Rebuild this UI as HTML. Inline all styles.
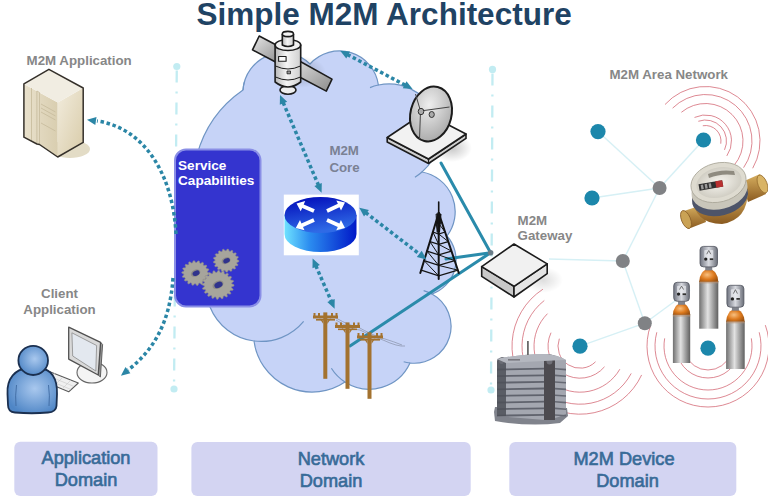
<!DOCTYPE html>
<html><head><meta charset="utf-8"><style>html,body{margin:0;padding:0;background:#ffffff;}svg{display:block;}</style></head>
<body><svg width="768" height="501" viewBox="0 0 768 501">
<defs>
<linearGradient id="gPanel" x1="0" y1="0" x2="1" y2="1"><stop offset="0" stop-color="#e6e6e6"/><stop offset="1" stop-color="#8c8c8c"/></linearGradient>
<linearGradient id="gBody" x1="0" y1="0" x2="1" y2="0"><stop offset="0" stop-color="#b8b8b8"/><stop offset="0.45" stop-color="#f4f4f4"/><stop offset="1" stop-color="#d0d0d0"/></linearGradient>
<radialGradient id="gDish" cx="0.4" cy="0.35" r="0.7"><stop offset="0" stop-color="#eeeeee"/><stop offset="1" stop-color="#a9a9a9"/></radialGradient>
<radialGradient id="gShadow" cx="0.5" cy="0.5" r="0.5"><stop offset="0" stop-color="#000" stop-opacity="0.22"/><stop offset="1" stop-color="#000" stop-opacity="0"/></radialGradient>
<linearGradient id="gPuckTop" x1="0" y1="0" x2="0.3" y2="1"><stop offset="0" stop-color="#0008b8"/><stop offset="1" stop-color="#2f6ae6"/></linearGradient>
<linearGradient id="gPuckSide" x1="0" y1="0" x2="1" y2="0"><stop offset="0" stop-color="#6fe2ff"/><stop offset="0.35" stop-color="#2b8cf0"/><stop offset="1" stop-color="#0018c8"/></linearGradient>
<linearGradient id="gServer" x1="0" y1="0" x2="1" y2="0"><stop offset="0" stop-color="#e9e1cc"/><stop offset="1" stop-color="#d9ceb0"/></linearGradient>
<linearGradient id="gServerR" x1="0" y1="0" x2="1" y2="1"><stop offset="0" stop-color="#f2ecdd"/><stop offset="1" stop-color="#d8cba8"/></linearGradient>
<radialGradient id="gUser" cx="0.55" cy="0.45" r="0.6"><stop offset="0" stop-color="#a9c8ee"/><stop offset="1" stop-color="#4f86c6"/></radialGradient>
<linearGradient id="gCyl" x1="0" y1="0" x2="1" y2="0"><stop offset="0" stop-color="#6f6f6f"/><stop offset="0.45" stop-color="#e2e2e2"/><stop offset="1" stop-color="#606060"/></linearGradient>
<radialGradient id="gDome" cx="0.42" cy="0.45" r="0.65"><stop offset="0" stop-color="#f8c080"/><stop offset="0.55" stop-color="#dd7a1e"/><stop offset="1" stop-color="#9a5212"/></radialGradient>
<linearGradient id="gValve" x1="0" y1="0" x2="1" y2="0"><stop offset="0" stop-color="#707480"/><stop offset="0.5" stop-color="#d8dae0"/><stop offset="1" stop-color="#6a6e78"/></linearGradient>
<linearGradient id="gBrass" x1="0" y1="0" x2="0" y2="1"><stop offset="0" stop-color="#d8b060"/><stop offset="1" stop-color="#8a5a20"/></linearGradient>
<radialGradient id="gGlass" cx="0.5" cy="0.5" r="0.6"><stop offset="0" stop-color="#f6f4ee"/><stop offset="1" stop-color="#c9c6bb"/></radialGradient>
<linearGradient id="gTank" x1="0" y1="0" x2="1" y2="0"><stop offset="0" stop-color="#7a7e88"/><stop offset="0.5" stop-color="#a3a7b0"/><stop offset="1" stop-color="#8e929c"/></linearGradient>
</defs><rect width="768" height="501" fill="#ffffff"/>
<line x1="176.8" y1="66.5" x2="174" y2="389" stroke="#c2ecf2" stroke-width="2.3" stroke-dasharray="12 9 2 9" stroke-dashoffset="-4"/>
<circle cx="176.8" cy="66.5" r="3.6" fill="#c2ecf2"/><circle cx="174" cy="389" r="3.6" fill="#c2ecf2"/><line x1="492.5" y1="69.4" x2="491" y2="390" stroke="#c2ecf2" stroke-width="2.3" stroke-dasharray="12 9 2 9" stroke-dashoffset="-4"/>
<circle cx="492.5" cy="69.4" r="3.6" fill="#c2ecf2"/><circle cx="491" cy="390" r="3.6" fill="#c2ecf2"/>
<path d="M243,90 A39.60,39.60 0 0 1 310.00,64.00 A39.45,39.45 0 0 1 378.40,85.00 A50.27,50.27 0 0 1 422.00,172.00 A40.30,40.30 0 0 1 447.00,236.00 A36.15,36.15 0 0 1 432.00,294.00 A36.92,36.92 0 0 1 410.00,363.00 A44.78,44.78 0 0 1 345.00,382.00 A58.67,58.67 0 0 1 254.00,341.00 A55.08,55.08 0 0 1 210.00,307.00 A65.28,65.28 0 0 1 204.00,235.00 A116.09,116.09 0 0 1 243.00,90.00 Z" fill="#c6d3f7" stroke="#6f95c4" stroke-width="1.2"/>
<path d="M243.00,90.00 A39.60,39.60 0 0 1 244.39,81.84 M378.40,85.00 A50.27,50.27 0 0 0 370.02,87.57 M422.00,172.00 A50.27,50.27 0 0 1 414.93,177.17 M432.00,294.00 A36.92,36.92 0 0 0 423.65,290.64 M410.00,363.00 A36.92,36.92 0 0 1 403.69,361.72 M345.00,382.00 A44.78,44.78 0 0 1 331.38,368.21 M254.00,341.00 A55.08,55.08 0 0 0 303.65,321.32" fill="none" stroke="#6f95c4" stroke-width="1.2"/>
<g stroke="#1c1c1c" stroke-width="1.6" stroke-linejoin="round">
<ellipse cx="300" cy="72" rx="26" ry="16" fill="url(#gShadow)" stroke="none"/>
<polygon points="259.2,36 252.5,49.9 276,62.3 282,48" fill="url(#gPanel)"/>
<polygon points="294,58 332,79.1 326.3,91.1 290,72" fill="url(#gPanel)"/>
<ellipse cx="288" cy="90" rx="8" ry="4.3" fill="#eee"/>
<path d="M275.1,45 L275.1,82 Q288,92 300.7,82 L300.7,45 Z" fill="url(#gBody)"/>
<ellipse cx="287.9" cy="45" rx="12.8" ry="5.5" fill="#f2f2f2"/>
<path d="M282.3,34 L282.3,45 Q288,48 293.5,45 L293.5,34" fill="url(#gBody)"/>
<ellipse cx="287.9" cy="34" rx="5.6" ry="2.6" fill="#f4f4f4"/>
<path d="M275.5,66 Q288,72 300.5,66" fill="none" stroke-width="1"/>
<path d="M275.5,77 Q288,83 300.5,77" fill="none" stroke-width="1"/>
<rect x="278.6" y="56.5" width="7.5" height="4.8" fill="#fafafa" stroke-width="1.1"/>
<rect x="287" y="71" width="3.5" height="2.8" fill="#999" stroke-width="0.8"/>
</g>
<g stroke="#1c1c1c" stroke-linejoin="round">
<ellipse cx="452" cy="148" rx="20" ry="14" fill="url(#gShadow)" stroke="none"/>
<polygon points="387.2,142 428.5,163.5 466,138.4 466,134 428.5,159 387.2,137.5" fill="#cfcfcf" stroke-width="1.6"/>
<polygon points="387.2,137.5 424.5,112.5 466,134 428.5,159" fill="#f2f2f2" stroke-width="1.6"/>
<line x1="428.5" y1="159" x2="428.5" y2="163.5" stroke-width="1.2"/>
<ellipse cx="431" cy="114" rx="20.5" ry="27.8" transform="rotate(14 431 114)" fill="url(#gDish)" stroke-width="2"/>
<g stroke="#444" stroke-width="1" fill="none">
<line x1="420.5" y1="111" x2="415.5" y2="94"/><line x1="420.5" y1="111" x2="449.5" y2="107"/><line x1="420.5" y1="111" x2="419.5" y2="139.5"/>
</g>
<ellipse cx="421" cy="111.5" rx="2.8" ry="3.2" fill="#aaa" stroke="#333" stroke-width="1"/>
<ellipse cx="431.7" cy="114.5" rx="2.6" ry="3" fill="#aaa" stroke="#333" stroke-width="1"/>
</g>
<g stroke="#2a8bab" stroke-width="3" stroke-linecap="round">
<line x1="441" y1="163" x2="490.6" y2="252.7"/>
<line x1="446" y1="259" x2="490.6" y2="252.7"/>
<line x1="350" y1="346" x2="490.6" y2="252.7"/>
</g><circle cx="490.6" cy="252.7" r="2.8" fill="#6a7d88"/>
<g stroke="#141414" fill="none" stroke-linecap="round"><line x1="438.7" y1="202" x2="438.7" y2="214" stroke-width="1.6"/><polygon points="436.5,214 441,214 439.5,232 437.5,232" fill="#141414" stroke-width="1"/><line x1="438.7" y1="213" x2="420.3" y2="273" stroke-width="2"/><line x1="438.7" y1="213" x2="458.8" y2="273" stroke-width="2"/><line x1="438.7" y1="213" x2="438.7" y2="279" stroke-width="2"/><polyline points="435.8,222.5 438.7,223.5 441.9,222.5" stroke-width="1.3"/><polyline points="432.9,232.0 438.7,234.0 445.1,232.0" stroke-width="1.3"/><line x1="435.8" y1="222.5" x2="438.7" y2="234.0" stroke-width="1"/><line x1="438.7" y1="223.5" x2="445.1" y2="232.0" stroke-width="1"/><polyline points="429.9,241.6 438.7,244.4 448.3,241.6" stroke-width="1.3"/><line x1="432.9" y1="232.0" x2="438.7" y2="244.4" stroke-width="1"/><line x1="438.7" y1="234.0" x2="448.3" y2="241.6" stroke-width="1"/><polyline points="427.0,251.1 438.7,254.9 451.5,251.1" stroke-width="1.3"/><line x1="429.9" y1="241.6" x2="438.7" y2="254.9" stroke-width="1"/><line x1="438.7" y1="244.4" x2="451.5" y2="251.1" stroke-width="1"/><polyline points="424.1,260.6 438.7,265.4 454.7,260.6" stroke-width="1.3"/><line x1="427.0" y1="251.1" x2="438.7" y2="265.4" stroke-width="1"/><line x1="438.7" y1="254.9" x2="454.7" y2="260.6" stroke-width="1"/><polyline points="421.2,270.1 438.7,275.9 457.8,270.1" stroke-width="1.3"/><line x1="424.1" y1="260.6" x2="438.7" y2="275.9" stroke-width="1"/><line x1="438.7" y1="265.4" x2="457.8" y2="270.1" stroke-width="1"/></g>
<g><g stroke="#8890a8" stroke-width="0.7" fill="none"><path d="M336,318 Q350,326 358,327 Q372,335 382,338 Q395,342 402,345"/><path d="M336,320 Q352,330 360,330 Q376,338 383,340 Q398,347 405,346"/></g><rect x="323.3" y="312.4" width="4" height="66.40000000000003" fill="#a3722f"/><rect x="313" y="315.5" width="25" height="3" fill="#a3722f"/><rect x="316" y="319" width="19" height="1.6" fill="#a3722f"/><rect x="313.5" y="313" width="2" height="3" fill="#a3722f"/><rect x="318" y="313" width="2" height="3" fill="#a3722f"/><rect x="331" y="313" width="2" height="3" fill="#a3722f"/><rect x="335.5" y="313" width="2" height="3" fill="#a3722f"/><polygon points="319.3,318 323.3,324 323.3,321" fill="#a3722f"/><polygon points="331.3,318 327.3,324 327.3,321" fill="#a3722f"/><rect x="345.5" y="322.4" width="4" height="66.40000000000003" fill="#a3722f"/><rect x="335" y="325.0" width="25" height="3" fill="#a3722f"/><rect x="338" y="328.5" width="19" height="1.6" fill="#a3722f"/><rect x="335.5" y="322.5" width="2" height="3" fill="#a3722f"/><rect x="340" y="322.5" width="2" height="3" fill="#a3722f"/><rect x="353" y="322.5" width="2" height="3" fill="#a3722f"/><rect x="357.5" y="322.5" width="2" height="3" fill="#a3722f"/><polygon points="341.5,327.5 345.5,333.5 345.5,330.5" fill="#a3722f"/><polygon points="353.5,327.5 349.5,333.5 349.5,330.5" fill="#a3722f"/><rect x="367.5" y="332.3" width="4" height="66.5" fill="#a3722f"/><rect x="357" y="335.5" width="26" height="3" fill="#a3722f"/><rect x="360" y="339" width="20" height="1.6" fill="#a3722f"/><rect x="357.5" y="333" width="2" height="3" fill="#a3722f"/><rect x="362" y="333" width="2" height="3" fill="#a3722f"/><rect x="376" y="333" width="2" height="3" fill="#a3722f"/><rect x="380.5" y="333" width="2" height="3" fill="#a3722f"/><polygon points="363.5,338 367.5,344 367.5,341" fill="#a3722f"/><polygon points="375.5,338 371.5,344 371.5,341" fill="#a3722f"/></g>
<rect x="283.8" y="194.6" width="75" height="60.7" fill="#fff"/>
<path d="M284.5,215 L284.5,234 A36,18 0 0 0 356.5,234 L356.5,215 Z" fill="url(#gPuckSide)"/>
<ellipse cx="320.5" cy="215" rx="36" ry="18" fill="url(#gPuckTop)"/>
<polygon points="314.8,209.3 303.7,204.4 305.2,201.1 296.5,203.4 300.7,211.3 302.2,207.9 313.2,212.7" fill="#fff"/><polygon points="327.8,212.7 339.5,207.3 341.0,210.6 345.0,202.6 336.3,200.5 337.9,203.8 326.2,209.3" fill="#fff"/><polygon points="313.2,218.3 301.4,223.4 300.0,220.1 295.8,228.0 304.5,230.3 303.0,226.9 314.8,221.7" fill="#fff"/><polygon points="326.2,221.7 337.8,226.9 336.3,230.3 345.0,228.0 340.9,220.0 339.4,223.4 327.8,218.3" fill="#fff"/>
<g stroke="#1c1c1c" stroke-width="1.6" stroke-linejoin="round">
<ellipse cx="543" cy="280" rx="20" ry="13" fill="url(#gShadow)" stroke="none" opacity="0.6"/>
<polygon points="481.7,266.6 514,286.3 514,297 481.7,276.4" fill="#c9c9c9"/>
<polygon points="514,286.3 547.2,263.9 547.2,273.7 514,297" fill="#e4e4e4"/>
<polygon points="481.7,266.6 514,244 547.2,263.9 514,286.3" fill="#f1f1f1"/>
</g>
<g stroke-linejoin="round">
<ellipse cx="70" cy="149" rx="20" ry="9" fill="#e3dcc6"/>
<polygon points="23.9,83.9 57.7,102.6 57.7,157 39.5,144.5 36.9,144 23.9,137.2" fill="url(#gServer)"/>
<polygon points="57.7,102.6 83.2,88 83.2,142.4 57.7,157" fill="url(#gServerR)"/>
<polygon points="23.9,83.9 48.9,69.3 83.2,88 57.7,102.6" fill="#f1ede2"/>
<g stroke="#c8bd9f" stroke-width="0.9" fill="none">
<line x1="31.5" y1="88" x2="31.5" y2="141"/>
<polyline points="36.9,144 36.9,91 39.5,92.5 39.5,144.5"/>
<line x1="41" y1="104" x2="55.5" y2="112"/><line x1="41" y1="108" x2="55.5" y2="116"/><line x1="41" y1="112" x2="55.5" y2="120"/>
<line x1="41" y1="123" x2="55.5" y2="131"/>
</g>
<polygon points="23.9,83.9 48.9,69.3 83.2,88 83.2,142.4 57.7,157 39.5,144.5 36.9,144 23.9,137.2" fill="none" stroke="#35302a" stroke-width="1.5"/>
</g>
<g stroke-linejoin="round">
<ellipse cx="92" cy="372.5" rx="15" ry="10.5" fill="#f4f4f4" stroke="#666" stroke-width="1.1"/>
<polygon points="100.6,342.3 102.6,344.5 100.4,377 98.2,375" fill="#9a9a9a" stroke="#555" stroke-width="0.9"/>
<polygon points="68.7,327.2 100.6,342.3 98.2,375 68.7,359.1" fill="#d9d9d9" stroke="#505050" stroke-width="1.3"/>
<polygon points="71.9,332.8 96.6,345.5 95.8,371 72.7,356" fill="#e3e8ef" stroke="#8a8a8a" stroke-width="0.8"/>
<polygon points="48,371 78.3,383 68.7,391.8 38,379" fill="#f0f0f0" stroke="#5a5a5a" stroke-width="1.1"/>
<g stroke="#c8c8c8" stroke-width="0.6"><line x1="45" y1="374.5" x2="74" y2="386.5"/><line x1="42" y1="377.5" x2="71" y2="389.5"/><line x1="55" y1="373" x2="46" y2="382"/><line x1="63" y1="377" x2="54" y2="386"/><line x1="71" y1="380" x2="62" y2="389"/></g>
<path d="M7.5,394 C6.5,378 16,369 27,368.5 L40,368.5 C51,369 57.5,378 57,394 L56.5,406 Q56,412 48,412.5 Q32,414 15,412.5 Q8,412 8,405 Z" fill="url(#gUser)" stroke="#1b3050" stroke-width="1.8"/>
<path d="M16.5,385 Q15,396 16,406 M48.5,385 Q50,396 49,406" fill="none" stroke="#3e6aa2" stroke-width="0.9"/>
<ellipse cx="33.2" cy="360.4" rx="14.8" ry="14.6" fill="url(#gUser)" stroke="#1b3050" stroke-width="1.8"/>
</g>
<line x1="659.6" y1="188" x2="598" y2="131.6" stroke="#d6f0f5" stroke-width="1.4"/><line x1="659.6" y1="188" x2="703.5" y2="140" stroke="#d6f0f5" stroke-width="1.4"/><line x1="659.6" y1="188" x2="592" y2="198" stroke="#d6f0f5" stroke-width="1.4"/><line x1="659.6" y1="188" x2="622.8" y2="261" stroke="#d6f0f5" stroke-width="1.4"/><line x1="622.8" y1="261" x2="549" y2="259" stroke="#d6f0f5" stroke-width="1.4"/><line x1="622.8" y1="261" x2="644.8" y2="323.2" stroke="#d6f0f5" stroke-width="1.4"/><line x1="644.8" y1="323.2" x2="580" y2="346.2" stroke="#d6f0f5" stroke-width="1.4"/><line x1="644.8" y1="323.2" x2="690" y2="290" stroke="#d6f0f5" stroke-width="1.4"/><path d="M702.81,125.74 A15.50,15.50 0 0 1 720.76,143.69" fill="none" stroke="#cf5a68" stroke-width="0.9" stroke-opacity="0.8"/><path d="M698.32,121.27 A21.00,21.00 0 0 1 724.53,149.87" fill="none" stroke="#cf5a68" stroke-width="0.9" stroke-opacity="0.8"/><path d="M694.51,117.44 A26.00,26.00 0 0 1 726.80,155.91" fill="none" stroke="#cf5a68" stroke-width="0.9" stroke-opacity="0.8"/><path d="M681.40,112.27 A37.50,37.50 0 0 1 734.23,165.10" fill="none" stroke="#cf5a68" stroke-width="0.9" stroke-opacity="0.8"/><path d="M672.62,108.12 A46.50,46.50 0 0 1 743.59,167.67" fill="none" stroke="#cf5a68" stroke-width="0.9" stroke-opacity="0.8"/><path d="M665.00,104.53 A54.50,54.50 0 0 1 752.70,168.25" fill="none" stroke="#cf5a68" stroke-width="0.9" stroke-opacity="0.8"/><path d="M595.56,361.76 A22.00,22.00 0 0 1 559.33,338.68" fill="none" stroke="#cf5a68" stroke-width="0.9" stroke-opacity="0.8"/><path d="M604.51,366.77 A32.00,32.00 0 0 1 551.00,332.68" fill="none" stroke="#cf5a68" stroke-width="0.9" stroke-opacity="0.8"/><path d="M619.84,369.20 A46.00,46.00 0 1 1 547.47,313.67" fill="none" stroke="#cf5a68" stroke-width="0.9" stroke-opacity="0.8"/><path d="M631.21,373.43 A58.00,58.00 0 1 1 544.29,300.50" fill="none" stroke="#cf5a68" stroke-width="0.9" stroke-opacity="0.8"/><path d="M641.63,374.94 A68.00,68.00 0 1 1 542.96,289.17" fill="none" stroke="#cf5a68" stroke-width="0.9" stroke-opacity="0.8"/><path d="M730.55,354.21 A24.00,24.00 0 0 1 685.45,354.21" fill="none" stroke="#cf5a68" stroke-width="0.9" stroke-opacity="0.8"/><path d="M739.51,351.56 A32.00,32.00 0 0 1 676.49,351.56" fill="none" stroke="#cf5a68" stroke-width="0.9" stroke-opacity="0.8"/><path d="M751.33,338.36 A44.00,44.00 0 1 1 664.67,338.36" fill="none" stroke="#cf5a68" stroke-width="0.9" stroke-opacity="0.8"/><path d="M759.19,332.28 A53.00,53.00 0 1 1 656.81,332.28" fill="none" stroke="#cf5a68" stroke-width="0.9" stroke-opacity="0.8"/><path d="M765.32,325.14 A61.00,61.00 0 1 1 650.68,325.14" fill="none" stroke="#cf5a68" stroke-width="0.9" stroke-opacity="0.8"/><circle cx="598" cy="131.6" r="7.6" fill="#1c87ab"/><circle cx="703.5" cy="140" r="7.6" fill="#1c87ab"/><circle cx="592" cy="198" r="7.6" fill="#1c87ab"/><circle cx="580" cy="346.2" r="7.6" fill="#1c87ab"/><circle cx="708" cy="348.2" r="7.6" fill="#1c87ab"/><circle cx="659.6" cy="188" r="7" fill="#808285"/><circle cx="622.8" cy="261" r="7" fill="#808285"/><circle cx="644.8" cy="323.2" r="7" fill="#808285"/><g>
<path d="M742,182 L760,174 L766,194 L748,202 Z" fill="url(#gBrass)"/>
<ellipse cx="762.5" cy="184" rx="4.5" ry="9.5" fill="#d9b466" stroke="#9a7030" stroke-width="0.8" transform="rotate(-22 762.5 184)"/>
<path d="M702,205 L684,211 L688,229 L706,222 Z" fill="url(#gBrass)"/>
<ellipse cx="686" cy="219.5" rx="4.5" ry="9.5" fill="#caa255" stroke="#8a6028" stroke-width="0.8" transform="rotate(-22 686 219.5)"/>
<path d="M692,195 Q694,224 722,224 Q748,220 748,190 Z" fill="url(#gBrass)"/>
<ellipse cx="720" cy="197" rx="28.5" ry="18.5" fill="#4d5469" transform="rotate(-14 720 197)"/>
<ellipse cx="719.5" cy="190" rx="28.5" ry="19" fill="#c9c6ba" transform="rotate(-14 719.5 190)"/>
<ellipse cx="718.5" cy="182.5" rx="28" ry="19.5" fill="#dedbd0" stroke="#a9a598" stroke-width="0.8" transform="rotate(-14 718.5 182.5)"/>
<ellipse cx="719" cy="182.5" rx="23" ry="15" fill="url(#gGlass)" transform="rotate(-14 719 182.5)"/>
<g transform="rotate(-10 712 186)">
<rect x="699" y="182" width="24" height="6.5" fill="#303030"/>
<rect x="701" y="183" width="2.4" height="4.5" fill="#9a9a9a"/><rect x="705" y="183" width="2.4" height="4.5" fill="#9a9a9a"/><rect x="709" y="183" width="2.4" height="4.5" fill="#9a9a9a"/>
<rect x="716" y="182" width="7" height="6.5" fill="#b83030"/>
</g>
<path d="M708,174 Q720,169 734,171 L735,175 Q721,173 709,178 Z" fill="#8f8b80"/>
</g><rect x="672.9" y="314.0640000000001" width="17.300000000000068" height="48.93599999999994" fill="url(#gCyl)"/><path d="M672.9,315.0640000000001 A8.650000000000034,11.764000000000047 0 0 1 690.2,315.0640000000001 Z" fill="url(#gDome)"/><rect x="672.9" y="314.5640000000001" width="17.300000000000068" height="2" fill="#b89070" opacity="0.6"/><rect x="678.05" y="301.3" width="7" height="3.5" fill="#80838c"/><rect x="673.6999999999999" y="282.3" width="15.700000000000069" height="19.0" rx="3.5" fill="url(#gValve)" stroke="#50545e" stroke-width="0.8"/><rect x="677.05" y="285.72" width="9" height="9.5" rx="1" fill="#eceef2" opacity="0.7"/><circle cx="678.55" cy="294.08" r="1.7" fill="#222"/><rect x="682.55" y="293.32" width="3.5" height="1.8" fill="#333"/><path d="M679.55,289.52000000000004 L681.55,286.1 L683.55,289.52000000000004" stroke="#555" stroke-width="0.8" fill="none"/><rect x="699.2" y="280.8879999999999" width="19.09999999999991" height="47.81200000000007" fill="url(#gCyl)"/><path d="M699.2,281.8879999999999 A9.549999999999955,12.98799999999994 0 0 1 718.3,281.8879999999999 Z" fill="url(#gDome)"/><rect x="699.2" y="281.3879999999999" width="19.09999999999991" height="2" fill="#b89070" opacity="0.6"/><rect x="705.25" y="266.9" width="7" height="3.5" fill="#80838c"/><rect x="700.0" y="246.4" width="17.499999999999908" height="20.49999999999997" rx="3.5" fill="url(#gValve)" stroke="#50545e" stroke-width="0.8"/><rect x="704.25" y="250.09" width="9" height="10.249999999999986" rx="1" fill="#eceef2" opacity="0.7"/><circle cx="705.75" cy="259.11" r="1.7" fill="#222"/><rect x="709.75" y="258.28999999999996" width="3.5" height="1.8" fill="#333"/><path d="M706.75,254.19 L708.75,250.5 L710.75,254.19" stroke="#555" stroke-width="0.8" fill="none"/><rect x="726.1" y="320.848" width="18.600000000000023" height="48.151999999999994" fill="url(#gCyl)"/><path d="M726.1,321.848 A9.300000000000011,12.648000000000016 0 0 1 744.7,321.848 Z" fill="url(#gDome)"/><rect x="726.1" y="321.348" width="18.600000000000023" height="2" fill="#b89070" opacity="0.6"/><rect x="731.9000000000001" y="307.2" width="7" height="3.5" fill="#80838c"/><rect x="726.9" y="285.3" width="17.00000000000002" height="21.899999999999977" rx="3.5" fill="url(#gValve)" stroke="#50545e" stroke-width="0.8"/><rect x="730.9000000000001" y="289.242" width="9" height="10.949999999999989" rx="1" fill="#eceef2" opacity="0.7"/><circle cx="732.4000000000001" cy="298.878" r="1.7" fill="#222"/><rect x="736.4000000000001" y="298.002" width="3.5" height="1.8" fill="#333"/><path d="M733.4000000000001,293.622 L735.4000000000001,289.68 L737.4000000000001,293.622" stroke="#555" stroke-width="0.8" fill="none"/><g><path d="M494,412 L495,421 Q530,427 560,423 L568,416 L567,408 L495,407 Z" fill="#80838c"/><path d="M497,359 Q520,354 546,354 Q558,355 566,360 L566,414 Q552,420 545,420 L497,416 Z" fill="#a4a7b0"/><path d="M497,368.6 L544,367.8 L544,369.6 L497,370.4 Z" fill="#60636d"/><path d="M555,368.0 L566,368.8 L566,370.4 L555,369.6 Z" fill="#666973"/><path d="M497,375.20000000000005 L544,374.40000000000003 L544,376.20000000000005 L497,377.0 Z" fill="#60636d"/><path d="M555,374.6 L566,375.40000000000003 L566,377.0 L555,376.20000000000005 Z" fill="#666973"/><path d="M497,381.8 L544,381.0 L544,382.8 L497,383.59999999999997 Z" fill="#60636d"/><path d="M555,381.2 L566,382.0 L566,383.59999999999997 L555,382.8 Z" fill="#666973"/><path d="M497,388.40000000000003 L544,387.6 L544,389.40000000000003 L497,390.2 Z" fill="#60636d"/><path d="M555,387.8 L566,388.6 L566,390.2 L555,389.40000000000003 Z" fill="#666973"/><path d="M497,395.0 L544,394.2 L544,396.0 L497,396.79999999999995 Z" fill="#60636d"/><path d="M555,394.4 L566,395.2 L566,396.79999999999995 L555,396.0 Z" fill="#666973"/><path d="M497,401.6 L544,400.8 L544,402.6 L497,403.4 Z" fill="#60636d"/><path d="M555,401.0 L566,401.8 L566,403.4 L555,402.6 Z" fill="#666973"/><path d="M497,408.20000000000005 L544,407.40000000000003 L544,409.20000000000005 L497,410.0 Z" fill="#60636d"/><path d="M555,407.6 L566,408.40000000000003 L566,410.0 L555,409.20000000000005 Z" fill="#666973"/><path d="M497,414.8 L544,414.0 L544,415.8 L497,416.59999999999997 Z" fill="#60636d"/><path d="M555,414.2 L566,415.0 L566,416.59999999999997 L555,415.8 Z" fill="#666973"/><path d="M497,361 Q499,357 503,357 Q506,358 506,361 L506,416 L497,416 Z" fill="#4e5058" opacity="0.85"/><path d="M544,356 Q550,353 555,356 L555,420 L544,420 Z" fill="#4d4b50"/><ellipse cx="549.5" cy="361" rx="3" ry="3.5" fill="#707078"/><ellipse cx="501.5" cy="361" rx="2.5" ry="3" fill="#6a6c74"/><path d="M497,359 Q520,354 546,354 Q558,355 566,360 Q540,361 506,363 Z" fill="#b4b7bf"/><rect x="527" y="341" width="1.8" height="14" fill="#6a6a6a"/><rect x="508" y="359" width="12" height="1.6" fill="#7a7a80"/></g>
<rect x="175" y="149.5" width="85.5" height="157" rx="11" fill="#3434cf" stroke="#8a8fe6" stroke-width="2"/>
<text x="178" y="169.6" font-family="Liberation Sans" font-weight="bold" font-size="13.6" fill="#fff">Service</text>
<text x="178" y="184.6" font-family="Liberation Sans" font-weight="bold" font-size="13.6" fill="#fff">Capabilities</text>
<path d="M209.4,273.1 L209.3,274.2 L207.3,275.0 L207.1,275.9 L208.6,277.3 L208.1,278.3 L205.9,278.4 L205.3,279.2 L206.2,281.1 L205.4,281.9 L203.2,281.3 L202.4,281.8 L202.5,283.9 L201.4,284.4 L199.7,283.1 L198.7,283.4 L198.0,285.3 L196.8,285.5 L195.6,283.8 L194.6,283.7 L193.2,285.3 L192.0,285.1 L191.5,283.1 L190.6,282.8 L188.7,283.9 L187.7,283.3 L188.0,281.3 L187.2,280.7 L185.0,281.1 L184.3,280.2 L185.3,278.4 L184.8,277.6 L182.6,277.3 L182.3,276.3 L183.9,275.0 L183.8,274.0 L181.8,273.1 L181.9,272.0 L183.9,271.2 L184.1,270.3 L182.6,268.9 L183.1,267.9 L185.3,267.8 L185.9,267.0 L185.0,265.1 L185.8,264.3 L188.0,264.9 L188.8,264.4 L188.7,262.3 L189.8,261.8 L191.5,263.1 L192.5,262.8 L193.2,260.9 L194.4,260.7 L195.6,262.4 L196.6,262.5 L198.0,260.9 L199.2,261.1 L199.7,263.1 L200.6,263.4 L202.5,262.3 L203.5,262.9 L203.2,264.9 L204.0,265.5 L206.2,265.1 L206.9,266.0 L205.9,267.8 L206.4,268.6 L208.6,268.9 L208.9,269.9 L207.3,271.2 L207.4,272.2Z" fill="#a7a59c" stroke="#8d8b85" stroke-width="0.6"/><ellipse cx="195.6" cy="273.1" rx="5.0" ry="3.4" fill="#8e8c86" transform="rotate(-25 195.6 273.1)"/><ellipse cx="196.0" cy="273.40000000000003" rx="3.7" ry="2.5" fill="#30338c" transform="rotate(-25 195.6 273.1)"/><path d="M238.9,260.6 L238.8,261.7 L236.9,262.4 L236.7,263.3 L238.0,264.8 L237.6,265.7 L235.5,265.8 L234.9,266.6 L235.6,268.4 L234.7,269.1 L232.7,268.5 L231.9,269.0 L231.8,270.9 L230.7,271.3 L229.1,270.1 L228.1,270.3 L227.3,272.1 L226.1,272.1 L225.1,270.5 L224.1,270.3 L222.6,271.7 L221.5,271.3 L221.2,269.5 L220.3,269.0 L218.4,269.8 L217.5,269.1 L218.0,267.3 L217.3,266.6 L215.2,266.7 L214.6,265.7 L215.8,264.2 L215.5,263.3 L213.5,262.7 L213.4,261.7 L215.1,260.6 L215.1,259.7 L213.5,258.5 L213.8,257.4 L215.8,257.0 L216.2,256.2 L215.2,254.5 L215.9,253.7 L218.0,253.9 L218.7,253.3 L218.4,251.4 L219.4,250.8 L221.2,251.7 L222.1,251.4 L222.6,249.5 L223.7,249.3 L225.1,250.7 L226.1,250.7 L227.3,249.1 L228.5,249.3 L229.1,251.1 L230.1,251.4 L231.8,250.3 L232.8,250.8 L232.7,252.7 L233.5,253.3 L235.6,252.8 L236.3,253.7 L235.5,255.4 L236.0,256.2 L238.0,256.4 L238.4,257.4 L236.9,258.8 L237.1,259.7Z" fill="#a7a59c" stroke="#8d8b85" stroke-width="0.6"/><ellipse cx="226.1" cy="260.6" rx="4.6" ry="3.1" fill="#8e8c86" transform="rotate(-25 226.1 260.6)"/><ellipse cx="226.5" cy="260.90000000000003" rx="3.5" ry="2.3" fill="#30338c" transform="rotate(-25 226.1 260.6)"/><path d="M234.0,284.8 L234.0,285.9 L231.6,286.7 L231.4,287.7 L233.2,289.2 L232.8,290.3 L230.3,290.4 L229.7,291.3 L230.9,293.3 L230.2,294.2 L227.7,293.6 L226.9,294.2 L227.4,296.4 L226.4,297.1 L224.2,295.8 L223.3,296.2 L222.9,298.5 L221.7,298.8 L220.2,297.0 L219.1,297.1 L218.0,299.2 L216.7,299.2 L215.8,297.0 L214.8,296.8 L213.1,298.5 L211.9,298.1 L211.8,295.8 L210.8,295.4 L208.6,296.4 L207.6,295.7 L208.3,293.6 L207.5,292.8 L205.1,293.3 L204.4,292.3 L205.7,290.4 L205.3,289.5 L202.8,289.2 L202.4,288.2 L204.4,286.7 L204.3,285.8 L202.0,284.8 L202.0,283.7 L204.4,282.9 L204.6,281.9 L202.8,280.4 L203.2,279.3 L205.7,279.2 L206.3,278.3 L205.1,276.3 L205.8,275.4 L208.3,276.0 L209.1,275.4 L208.6,273.2 L209.6,272.5 L211.8,273.8 L212.7,273.4 L213.1,271.1 L214.3,270.8 L215.8,272.6 L216.9,272.5 L218.0,270.4 L219.3,270.4 L220.2,272.6 L221.2,272.8 L222.9,271.1 L224.1,271.5 L224.2,273.8 L225.2,274.2 L227.4,273.2 L228.4,273.9 L227.7,276.0 L228.5,276.8 L230.9,276.3 L231.6,277.3 L230.3,279.2 L230.7,280.1 L233.2,280.4 L233.6,281.4 L231.6,282.9 L231.7,283.8Z" fill="#a7a59c" stroke="#8d8b85" stroke-width="0.6"/><ellipse cx="218" cy="284.8" rx="5.8" ry="3.9" fill="#8e8c86" transform="rotate(-25 218 284.8)"/><ellipse cx="218.4" cy="285.1" rx="4.3" ry="2.9" fill="#30338c" transform="rotate(-25 218 284.8)"/>
<line x1="283.1" y1="102.4" x2="318.5" y2="185.3" stroke="#2b86a6" stroke-width="3.5" stroke-dasharray="3.5 2.7"/><polygon points="280.0,95.0 287.2,101.7 279.8,104.8" fill="#2b86a6"/><polygon points="321.6,192.7 314.4,186.0 321.8,182.9" fill="#2b86a6"/><line x1="347.3" y1="54.5" x2="405.5" y2="85.3" stroke="#2b86a6" stroke-width="3.5" stroke-dasharray="3.5 2.7"/><polygon points="340.2,50.8 350.0,51.5 346.3,58.5" fill="#2b86a6"/><polygon points="412.6,89.0 402.8,88.3 406.5,81.3" fill="#2b86a6"/><line x1="365.6" y1="212.6" x2="420.1" y2="254.5" stroke="#2b86a6" stroke-width="3.5" stroke-dasharray="3.5 2.7"/><polygon points="359.3,207.7 368.9,210.0 364.0,216.4" fill="#2b86a6"/><polygon points="426.4,259.4 416.8,257.1 421.7,250.7" fill="#2b86a6"/><line x1="315.8" y1="265.7" x2="331.4" y2="301.4" stroke="#2b86a6" stroke-width="3.5" stroke-dasharray="3.5 2.7"/><polygon points="312.6,258.4 319.9,265.0 312.5,268.2" fill="#2b86a6"/><polygon points="334.6,308.7 327.3,302.1 334.7,298.9" fill="#2b86a6"/><path d="M176,234 C173,175 145,128 97,121" fill="none" stroke="#2b86a6" stroke-width="3.5" stroke-dasharray="3.5 2.7"/><polygon points="87.0,119.8 96.5,117.1 95.3,125.0" fill="#2b86a6"/><path d="M173,278 C170,322 154,350 128,370" fill="none" stroke="#2b86a6" stroke-width="3.5" stroke-dasharray="3.5 2.7"/><polygon points="120.9,375.7 125.5,367.0 130.4,373.3" fill="#2b86a6"/>
<g font-family="Liberation Sans" font-weight="bold" font-size="13.3" fill="#878787">
<text x="26.6" y="64.9">M2M Application</text>
<text x="59.5" y="298.2" text-anchor="middle">Client</text>
<text x="59.5" y="313.6" text-anchor="middle">Application</text>
<text x="329.4" y="154.8" fill="#7a8194">M2M</text>
<text x="329.4" y="171.5" fill="#7a8194">Core</text>
<text x="517.6" y="225.2">M2M</text>
<text x="517.6" y="240.2">Gateway</text>
<text x="609.5" y="78.8">M2M Area Network</text>
</g>
<text x="196.5" y="24.5" font-family="Liberation Sans" font-weight="bold" font-size="31.5" fill="#1f4364">Simple M2M Architecture</text>
<rect x="14.3" y="441.7" width="143.2" height="54.2" rx="6" fill="#d3d4f2"/>
<rect x="191.4" y="442" width="279.3" height="54" rx="6" fill="#d3d4f2"/>
<rect x="509.3" y="442" width="227" height="54" rx="6" fill="#d3d4f2"/>
<g font-family="Liberation Sans" font-size="18.2" fill="#386b98" stroke="#386b98" stroke-width="0.65" text-anchor="middle">
<text x="86" y="464">Application</text><text x="86" y="485.5">Domain</text>
<text x="331" y="465">Network</text><text x="331" y="486.5">Domain</text>
<text x="624" y="465">M2M Device</text><text x="627.5" y="486.5">Domain</text>
</g>
</svg></body></html>
